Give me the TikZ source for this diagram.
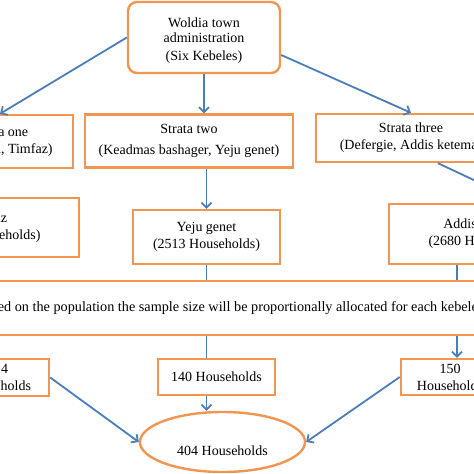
\documentclass[tikz,border=0pt]{standalone}
\usepackage{fontspec}
\setmainfont{Liberation Serif}
\usetikzlibrary{arrows.meta,shapes.geometric}
\definecolor{boxorange}{RGB}{240,150,80}
\definecolor{flowblue}{RGB}{74,126,187}

\begin{document}
\begin{tikzpicture}[x=1pt,y=-1pt,
        box/.style={draw=boxorange,line width=2.4pt,inner sep=0pt,align=center,
          font=\fontsize{14}{17}\selectfont},
        flow/.style={draw=flowblue,line width=1.8pt,-{Straight Barb[length=5pt,width=10pt]}},
        link/.style={draw=flowblue,line width=1.8pt}]
        \useasboundingbox (0,0) rectangle (474,474);
        \clip (0,0) rectangle (474,474);
        \fill[white] (0,0) rectangle (474,474);
        % first two rows
        \node[box,rounded corners=9pt,minimum width=152,minimum height=71] (town) at (204,37.5)
        {\rule{0pt}{16pt}Woldia town\\[-2pt]administration\\[1pt](Six Kebeles)};
        \node[box,minimum width=146,minimum height=53] (strataone) at (0,141.5)
        {Strata one\\(Mekdela, Timfaz)};
        \node[box,minimum width=208,minimum height=53,font=\fontsize{14}{21}\selectfont] (stratatwo) at (189,141)
        {Strata two\\(Keadmas bashager, Yeju genet)};
        \node[box,minimum width=190,minimum height=48] (stratathree) at (411,138)
        {Strata three\\(Defergie, Addis ketema)};
        \coordinate (defergie) at (560,220.6);
        \node[box,minimum width=184,minimum height=59] (timfaz) at (-13,227.5)
        {Timfaz\\(2044 Households)};
        \node[box,minimum width=147,minimum height=54] (yeju) at (206.5,237)
        {Yeju genet\\(2513 Households)};
        \node[box,minimum width=186,minimum height=60] (addis) at (482,234)
        {Addis ketema\\(2680 Households)};
        % allocation
        \node[box,minimum width=800,minimum height=54,font=\fontsize{14.23}{17}\selectfont] (alloc) at (227.2,308)
        {Based on the population the sample size will be proportionally allocated for each kebele};
        \node[box,minimum width=102,minimum height=37] (hhone) at (-2,377.5)
        {114\\Households};
        \node[box,minimum width=117,minimum height=36] (hhtwo) at (216.5,377)
        {140 Households};
        \node[box,minimum width=98,minimum height=36] (hhthree) at (450,377)
        {150\\Households};
        \node[box,ellipse,minimum width=165,minimum height=60,text height=26pt,text depth=0pt] (total) at (222.5,442)
        {404 Households};
        % connectors
        \draw[flow] (town.west) -- (strataone.north);
        \draw[flow] (town.south) -- (town.south |- stratatwo.north);
        \draw[flow] ([yshift=-17.5pt]town.east) -- (stratathree.north);
        \draw[flow] (yeju.north |- stratatwo.south) -- (yeju.north);
        \draw[flow] ([xshift=27pt]stratathree.south) -- (defergie);
        \draw[link] (yeju.south) -- (yeju.south |- alloc.north);
        \draw[link] ([xshift=-25pt]addis.south) -- ([xshift=-25pt]addis.south |- alloc.north);
        \draw[link] (yeju.south |- alloc.south) -- (yeju.south |- hhtwo.north);
        \draw[flow] ([xshift=-25pt]addis.south |- alloc.south) -- ([xshift=-25pt]addis.south |- hhthree.north);
        \draw[flow] (yeju.south |- hhtwo.south) -- (yeju.south |- total.north);
        \draw[flow] (hhone.east) -- (total.west);
        \draw[flow] (hhthree.west) -- (total.east);
\end{tikzpicture}
\end{document}
